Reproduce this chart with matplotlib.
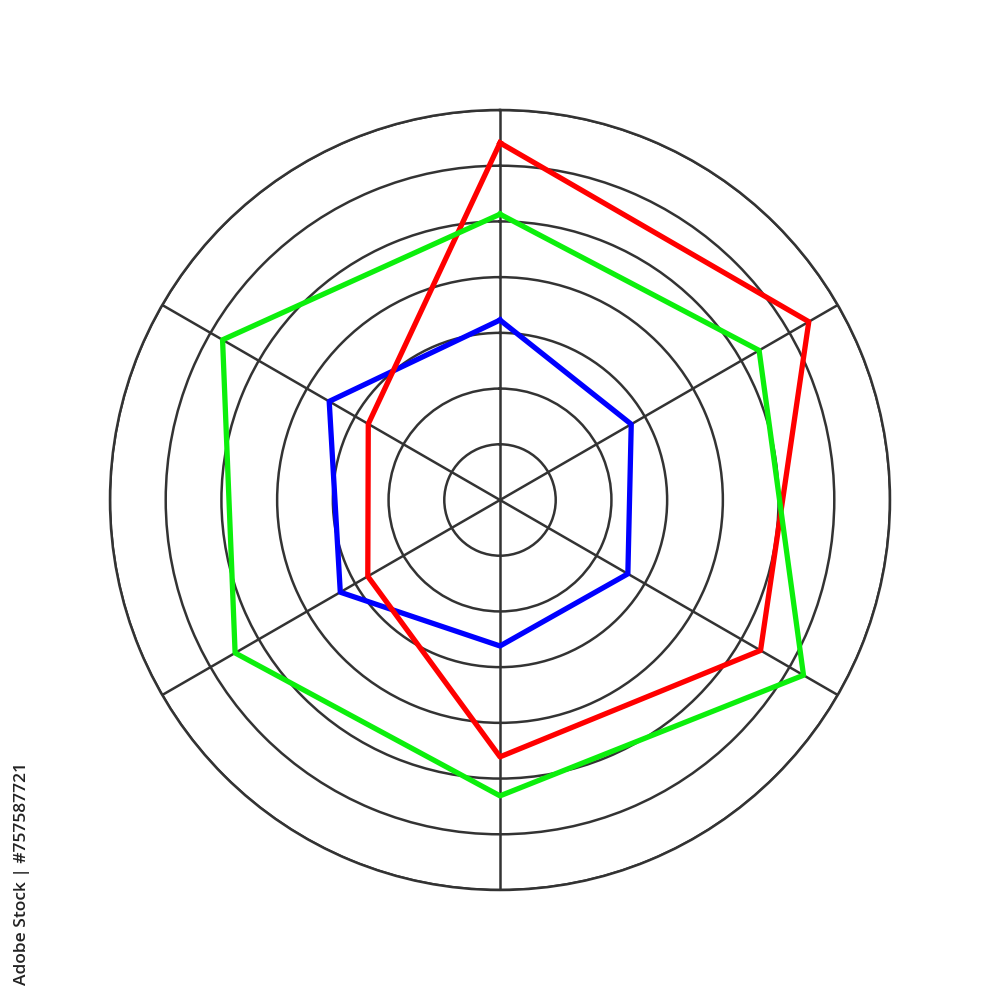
import matplotlib.pyplot as plt
import numpy as np

# six axes, clockwise from the top
axes_deg = [0, 60, 120, 180, 240, 300]
ring_levels = [1, 2, 3, 4, 5, 6, 7]

red_vals = [6.41, 6.40, 5.40, 4.61, 2.74, 2.73]
green_vals = [5.13, 5.37, 6.29, 5.31, 5.49, 5.75]
blue_vals = [3.23, 2.72, 2.65, 2.62, 3.31, 3.54]

fig = plt.figure(figsize=(10, 10), dpi=100)
ax = fig.add_axes([0.11, 0.11, 0.78, 0.78], projection='polar')
ax.set_theta_zero_location('N')
ax.set_theta_direction(-1)
ax.set_ylim(0, 7)

grid_col = '#333333'
ax.set_rgrids(ring_levels, labels=[''] * len(ring_levels))
ax.set_thetagrids(axes_deg, labels=[''] * len(axes_deg))
ax.grid(True, color=grid_col, linewidth=1.8)
ax.spines['polar'].set_color(grid_col)
ax.spines['polar'].set_linewidth(1.8)
ax.tick_params(length=0)

theta = np.deg2rad(axes_deg + [axes_deg[0]])
for vals, col in [(blue_vals, '#0000ff'), (red_vals, '#ff0000'), (green_vals, '#0cef0c')]:
    ax.plot(theta, vals + [vals[0]], color=col, linewidth=3.8, zorder=3)

fig.text(0.022, 0.015, 'Adobe Stock | #757587721', rotation=90,
         fontsize=12.5, color='#222222', family='Open Sans', weight='semibold',
         ha='center', va='bottom')

fig.savefig('out.png', dpi=100)
